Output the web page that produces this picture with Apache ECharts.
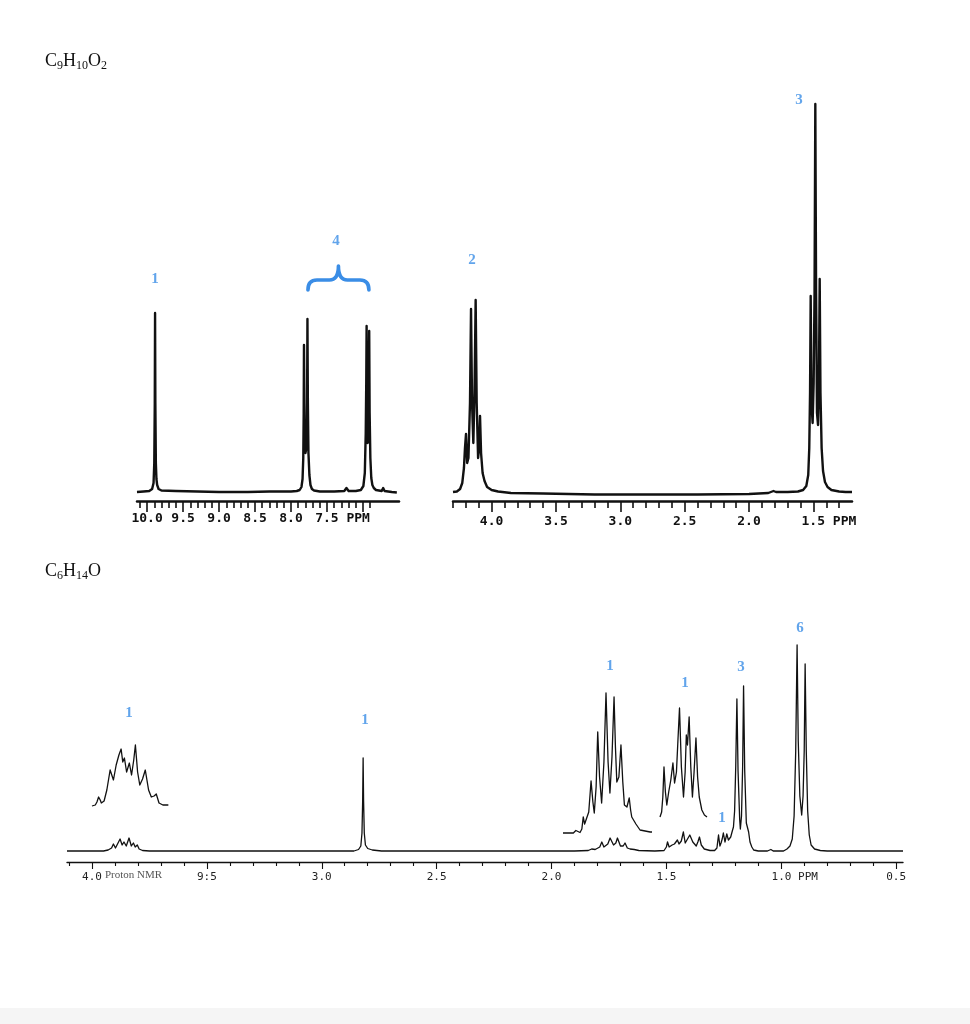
<!DOCTYPE html>
<html><head><meta charset="utf-8">
<script src="https://cdn.jsdelivr.net/npm/echarts@6/dist/echarts.min.js"></script>
<style>html,body{margin:0;padding:0;background:#fff}#c{width:970px;height:1024px}</style>
</head><body><div id="c"></div>
<script>
// ---------- DATA ----------
// Top-left spectrum (C9H10O2, 10.1 - 6.5 ppm): [ppm, intensity]
const specTL = [
[10.14,1],[10.05,1.5],[9.97,2],[9.93,4],[9.91,10],[9.90,30],[9.893,90],[9.889,180],[9.885,90],[9.878,30],[9.87,14],[9.86,8],[9.84,4],[9.80,2.5],[9.6,2],[9.3,1.5],[9.0,1],[8.6,1],[8.3,1.5],[8.0,1.5],[7.92,2],[7.88,3],[7.855,6],[7.84,14],[7.83,35],[7.824,80],[7.82,148],[7.812,60],[7.80,40],[7.785,45],[7.777,90],[7.772,174],[7.766,90],[7.758,40],[7.745,18],[7.73,8],[7.71,4],[7.68,2.5],[7.6,1.5],[7.4,1.5],[7.26,2],[7.23,5],[7.20,2],[7.10,2],[7.03,3],[6.995,7],[6.975,20],[6.962,60],[6.955,110],[6.95,167],[6.942,80],[6.935,50],[6.928,55],[6.92,100],[6.914,162],[6.908,80],[6.898,35],[6.885,15],[6.87,8],[6.85,5],[6.82,3],[6.74,2],[6.72,5],[6.70,2],[6.6,1],[6.53,0.5]
];
// Top-right spectrum (4.3 - 1.2 ppm)
const specTR = [
[4.30,1],[4.27,1.5],[4.245,4],[4.228,10],[4.215,25],[4.207,45],[4.199,59],[4.19,30],[4.18,35],[4.168,90],[4.16,184],[4.152,90],[4.142,50],[4.133,100],[4.124,193],[4.116,90],[4.105,35],[4.097,45],[4.09,77],[4.082,40],[4.07,20],[4.055,12],[4.035,6],[4.0,3],[3.95,1.5],[3.85,0],[3.6,-0.5],[3.2,-1.5],[2.8,-1.5],[2.4,-1.5],[2.0,-1],[1.85,0],[1.81,2],[1.79,1],[1.70,1],[1.62,1.5],[1.58,3],[1.555,7],[1.54,18],[1.532,45],[1.526,100],[1.521,197],[1.515,90],[1.506,70],[1.498,110],[1.491,200],[1.485,389],[1.479,200],[1.472,80],[1.464,68],[1.457,110],[1.451,214],[1.445,100],[1.436,45],[1.425,22],[1.41,11],[1.39,6],[1.36,3],[1.30,1.5],[1.25,1],[1.2,1]
];
// Bottom spectrum (C6H14O, 4.1 - 0.47 ppm)
const specBottom = [
[4.109,0],[4.0,0],[3.95,0],[3.93,1],[3.915,3],[3.907,7],[3.898,3],[3.89,5],[3.878,12],[3.869,6],[3.861,9],[3.851,5],[3.839,13],[3.829,5],[3.82,8],[3.812,4],[3.803,6],[3.795,2],[3.78,0.5],[3.75,0],[3.4,0],[3.0,0],[2.86,0],[2.84,1.5],[2.83,5],[2.825,18],[2.822,50],[2.82,93],[2.818,50],[2.815,18],[2.81,6],[2.80,2.5],[2.78,1],[2.74,0],[2.5,0],[2.2,0],[1.9,0],[1.84,0.5],[1.825,2],[1.818,4],[1.81,1.5],[1.79,4],[1.781,9],[1.772,4],[1.755,7],[1.745,13],[1.73,6],[1.72,8],[1.713,13],[1.70,5],[1.688,5],[1.68,8],[1.67,3],[1.658,2],[1.65,4],[1.64,1.5],[1.62,0.5],[1.55,0],[1.51,0.5],[1.50,4],[1.495,9],[1.488,4],[1.475,6],[1.465,7],[1.452,11],[1.445,7],[1.435,10],[1.426,19],[1.418,8],[1.41,10],[1.398,16],[1.392,18],[1.385,9],[1.37,5],[1.363,9],[1.356,14],[1.348,6],[1.335,2],[1.31,0.5],[1.29,0.5],[1.28,3],[1.273,16],[1.267,5],[1.262,8],[1.257,12],[1.252,18],[1.245,9],[1.237,17],[1.23,11],[1.22,14],[1.213,20],[1.208,24],[1.203,40],[1.198,85],[1.193,152],[1.188,80],[1.181,32],[1.178,22],[1.173,35],[1.168,85],[1.164,165],[1.159,80],[1.152,28],[1.142,19],[1.136,9],[1.128,4],[1.12,1],[1.10,0],[1.075,0],[1.068,2],[1.06,0],[1.045,1.5],[1.035,0],[0.99,0],[0.975,2],[0.962,5],[0.952,12],[0.944,35],[0.937,100],[0.931,206],[0.926,110],[0.919,55],[0.911,36],[0.905,55],[0.90,100],[0.896,187],[0.891,100],[0.885,40],[0.878,16],[0.87,6],[0.855,2],[0.83,0.5],[0.8,0],[0.6,0],[0.47,0]
];
// Expanded insets (vertically amplified multiplets)
const insetA = [
[3.920,-1],[3.914,0],[3.911,3],[3.908,8],[3.905,5],[3.903,2],[3.898,4],[3.893,15],[3.887,35],[3.881,25],[3.876,40],[3.871,50],[3.867,56],[3.864,43],[3.861,47],[3.857,33],[3.852,42],[3.848,30],[3.844,45],[3.841,60],[3.837,33],[3.833,20],[3.828,26],[3.823,35],[3.817,15],[3.812,8],[3.807,9],[3.803,11],[3.798,2],[3.791,0],[3.781,0]
];
const insetB = [
[1.934,-1],[1.889,-1],[1.878,1.5],[1.86,-0.5],[1.852,3],[1.846,15],[1.840,8],[1.834,7],[1.822,20],[1.812,51],[1.804,30],[1.798,19],[1.790,45],[1.783,100],[1.775,55],[1.766,29],[1.756,70],[1.747,139],[1.738,70],[1.730,39],[1.721,75],[1.712,135],[1.706,85],[1.700,50],[1.691,55],[1.682,87],[1.674,50],[1.667,27],[1.656,25],[1.646,34],[1.640,22],[1.635,15],[1.617,8],[1.599,2],[1.555,0],[1.547,0]
];
const insetC = [
[1.512,0],[1.505,5],[1.500,20],[1.495,50],[1.489,25],[1.483,12],[1.475,25],[1.466,37],[1.457,54],[1.450,34],[1.442,45],[1.436,75],[1.429,109],[1.421,50],[1.412,20],[1.405,45],[1.400,82],[1.395,72],[1.388,100],[1.381,50],[1.374,20],[1.367,45],[1.359,79],[1.352,40],[1.345,20],[1.334,7],[1.323,2],[1.312,0]
];
// Integration labels: [ppm, height, text]
const labelsTL = [[9.89, 214, '1'], [7.376, 252, '4']];
const labelsTR = [[4.152, 233, '2'], [1.612, 393, '3']];
const labelsBottom = [[3.839,138,'1'],[2.812,131,'1'],[1.745,185,'1'],[1.419,168,'1'],[1.258,33,'1'],[1.175,184,'3'],[0.918,223,'6']];
// Brace over the aromatic doublets: [fromPpm, toPpm, endH, levelH, tipH]
const braceTL = [[7.765, 6.918, 203, 213, 227]];
// Tick labels
const TL_MAJORS = [10.0, 9.5, 9.0, 8.5, 8.0, 7.5, 7.0];
const TL_LABELS = ['10.0','9.5','9.0','8.5','8.0','7.5 PPM',''];
const TR_MAJORS = [4.0, 3.5, 3.0, 2.5, 2.0, 1.5];
const TR_LABELS = ['4.0','3.5','3.0','2.5','2.0','1.5 PPM'];
const B_MAJORS = [4.0, 3.5, 3.0, 2.5, 2.0, 1.5, 1.0, 0.5];
const B_LABELS = ['4.0','9:5','3.0','2.5','2.0','1.5','1.0 PPM','0.5'];

function minorTicks(hiTenths, loTenths) {
  const out = [];
  for (let k = hiTenths; k >= loTenths; k--) if (k % 5 !== 0) out.push(k / 10);
  return out;
}
const TL_MINORS = minorTicks(101, 69);
const TR_MINORS = minorTicks(43, 13);
const B_MINORS = minorTicks(41, 6);

// ---------- CHART ----------
const BLUE = '#3a8de6';
const chart = echarts.init(document.getElementById('c'), null, {renderer: 'canvas'});

function makeFormatter(majors, labels) {
  return function (v) {
    const i = majors.findIndex(m => Math.abs(m - v) < 1e-6);
    if (i < 0) return '';
    const t = labels[i];
    return t.indexOf(' PPM') >= 0 ? '{sp| }' + t : t;
  };
}
function majorAxis(gi, min, max, majors, labels, o) {
  return {
    type: 'value', gridIndex: gi, position: 'bottom', inverse: true, min: min, max: max,
    axisLine: {show: true, onZero: false, lineStyle: {color: '#111', width: o.lw}},
    axisTick: {show: true, customValues: majors, length: o.major, lineStyle: {color: '#111', width: o.tw}},
    axisLabel: {show: true, customValues: majors, interval: 0, margin: o.margin, color: o.color,
      fontFamily: 'DejaVu Sans Mono', fontSize: o.fs, fontWeight: o.fw,
      formatter: makeFormatter(majors, labels),
      rich: {sp: {width: o.ppmW, fontFamily: 'DejaVu Sans Mono', fontSize: o.fs}}},
    splitLine: {show: false}
  };
}
function minorAxis(gi, min, max, minors, o) {
  return {
    type: 'value', gridIndex: gi, position: 'bottom', inverse: true, min: min, max: max,
    axisLine: {show: false, onZero: false},
    axisTick: {show: true, customValues: minors, length: o.minor, lineStyle: {color: '#111', width: o.tw}},
    axisLabel: {show: false}, splitLine: {show: false}
  };
}
function hiddenX(gi, min, max) {
  return {type: 'value', gridIndex: gi, inverse: true, min: min, max: max, show: false};
}
function hiddenY(gi, min, max) {
  return {type: 'value', gridIndex: gi, min: min, max: max, show: false};
}
function spectrum(xi, yi, data, w) {
  return {type: 'line', xAxisIndex: xi, yAxisIndex: yi, data: data, symbol: 'none', showSymbol: false,
    lineStyle: {color: '#111', width: w, join: 'round'}, clip: false, silent: true, z: 3};
}
function labelSeries(xi, yi, arr) {
  return {type: 'scatter', xAxisIndex: xi, yAxisIndex: yi, symbolSize: 1, silent: true, z: 5, clip: false,
    itemStyle: {color: 'transparent'},
    data: arr.map(a => ({value: [a[0], a[1]], name: a[2]})),
    label: {show: true, position: 'inside', formatter: '{b}', color: BLUE,
      fontFamily: 'Liberation Serif', fontWeight: 'bold', fontSize: 15}};
}

const topOpt = {lw: 2.5, tw: 1.6, major: 11, minor: 7, fs: 13, fw: 'bold', color: '#111', ppmW: 31};
const botOpt = {lw: 1.4, tw: 1.1, major: 7, minor: 4, fs: 11, fw: 'normal', color: '#222', ppmW: 27};

const option = {
  animation: false,
  backgroundColor: '#ffffff',
  grid: [
    {left: 137, top: 91, width: 262, height: 410},
    {left: 453, top: 91, width: 399, height: 410},
    {left: 67, top: 562, width: 836, height: 300},
    {left: 92, top: 705, width: 78, height: 100},
    {left: 563, top: 672, width: 89, height: 160},
    {left: 660, top: 697, width: 47, height: 120}
  ],
  xAxis: [
    majorAxis(0, 6.5, 10.14, TL_MAJORS, TL_LABELS, Object.assign({margin: 11}, topOpt)),
    minorAxis(0, 6.5, 10.14, TL_MINORS, topOpt),
    majorAxis(1, 1.2, 4.3, TR_MAJORS, TR_LABELS, Object.assign({margin: 14}, topOpt)),
    minorAxis(1, 1.2, 4.3, TR_MINORS, topOpt),
    majorAxis(2, 0.47, 4.109, B_MAJORS, B_LABELS, Object.assign({margin: 10}, botOpt)),
    minorAxis(2, 0.47, 4.109, B_MINORS, botOpt),
    hiddenX(3, 3.778, 3.920),
    hiddenX(4, 1.547, 1.934),
    hiddenX(5, 1.312, 1.512)
  ],
  yAxis: [
    hiddenY(0, -8, 402), hiddenY(1, -8, 402), hiddenY(2, -11, 289),
    hiddenY(3, 0, 100), hiddenY(4, 0, 160), hiddenY(5, 0, 120)
  ],
  series: [
    spectrum(0, 0, specTL, 2.4),
    spectrum(2, 1, specTR, 2.4),
    spectrum(4, 2, specBottom, 1.3),
    spectrum(6, 3, insetA, 1.3),
    spectrum(7, 4, insetB, 1.3),
    spectrum(8, 5, insetC, 1.3),
    labelSeries(0, 0, labelsTL),
    labelSeries(2, 1, labelsTR),
    labelSeries(4, 2, labelsBottom),
    {
      type: 'custom', xAxisIndex: 0, yAxisIndex: 0, data: braceTL, silent: true, clip: false, z: 5,
      renderItem: function (params, api) {
        const p1 = api.coord([api.value(0), api.value(2)]);
        const p2 = api.coord([api.value(1), api.value(2)]);
        const yL = api.coord([api.value(0), api.value(3)])[1];
        const yT = api.coord([api.value(0), api.value(4)])[1];
        const x1 = p1[0], x2 = p2[0], yE = p1[1], xm = (x1 + x2) / 2, r = 9;
        const d = 'M' + x1 + ',' + yE + ' Q' + x1 + ',' + yL + ' ' + (x1 + r) + ',' + yL +
          ' L' + (xm - r) + ',' + yL + ' Q' + xm + ',' + yL + ' ' + xm + ',' + yT +
          ' Q' + xm + ',' + yL + ' ' + (xm + r) + ',' + yL +
          ' L' + (x2 - r) + ',' + yL + ' Q' + x2 + ',' + yL + ' ' + x2 + ',' + yE;
        return {type: 'path', shape: {pathData: d},
          style: {stroke: BLUE, fill: 'none', lineWidth: 3.6, lineCap: 'round', lineJoin: 'round'}};
      }
    }
  ],
  graphic: [
    {type: 'text', left: 45, top: 52, silent: true, style: {
      text: '{n|C}{s|9}{n|H}{s|10}{n|O}{s|2}',
      rich: {n: {fontSize: 18, fontFamily: 'Liberation Serif', fill: '#111', lineHeight: 20, verticalAlign: 'top'},
             s: {fontSize: 12, fontFamily: 'Liberation Serif', fill: '#111', lineHeight: 12, padding: [8, 0, 0, 0], verticalAlign: 'bottom'}}}},
    {type: 'text', left: 45, top: 562, silent: true, style: {
      text: '{n|C}{s|6}{n|H}{s|14}{n|O}',
      rich: {n: {fontSize: 18, fontFamily: 'Liberation Serif', fill: '#111', lineHeight: 20, verticalAlign: 'top'},
             s: {fontSize: 12, fontFamily: 'Liberation Serif', fill: '#111', lineHeight: 12, padding: [8, 0, 0, 0], verticalAlign: 'bottom'}}}},
    {type: 'text', left: 105, top: 870, silent: true, style: {
      text: 'Proton NMR', fontSize: 11, fontFamily: 'Liberation Serif', fill: '#555'}},
    {type: 'rect', left: 0, top: 1008, silent: true, shape: {width: 970, height: 16}, style: {fill: '#f5f5f5'}}
  ]
};
chart.setOption(option);
</script>
</body></html>
